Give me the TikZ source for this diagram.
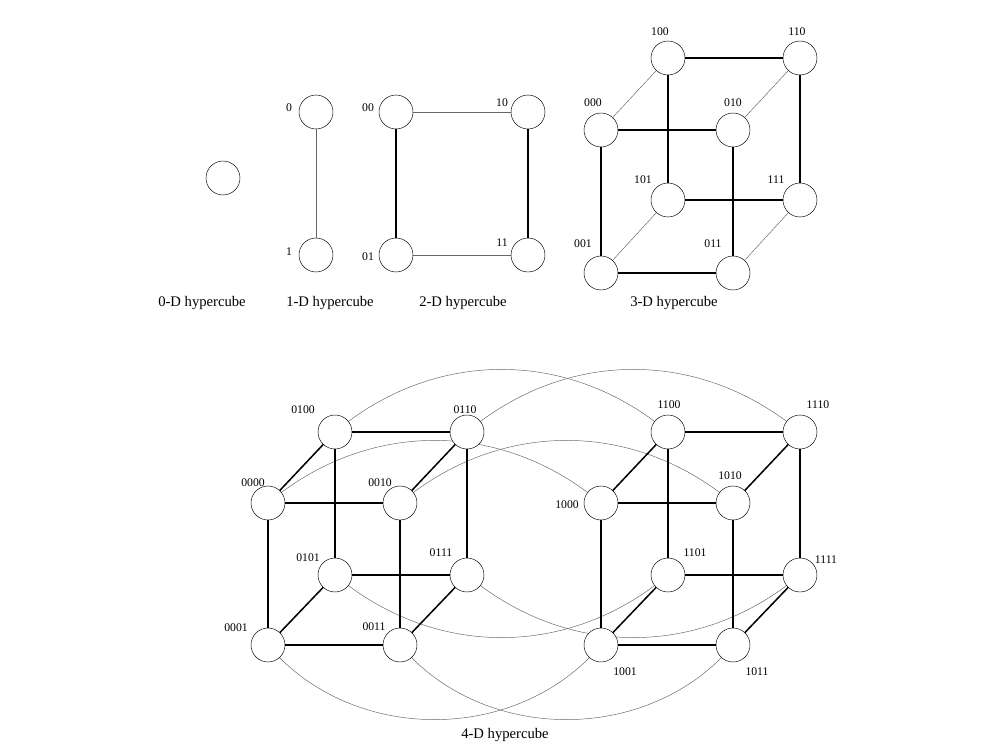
\documentclass[tikz,border=0pt]{standalone}
\usepackage{fontspec}
\setmainfont{Liberation Serif}
\begin{document}
\begin{tikzpicture}[x=0.03cm,y=0.03cm,
  v/.style={circle,draw,fill=white,minimum size=34*0.03cm,inner sep=0pt},
  lab/.style={font=\fontsize{10}{12}\selectfont},
  captxt/.style={font=\fontsize{12.5}{14}\selectfont},
  thk/.style={line width=1.3pt},
  thn/.style={line width=0.4pt,draw=black!60}]
\useasboundingbox (0,0) rectangle (1000,-750);
% 0-D
\node[v] (z) at (223,-178) {};
% 1-D
\node[v] (a0) at (316,-112) {}; \node[v] (a1) at (316,-255) {};
\draw[thn] (a0)--(a1);
\node[lab] at (289,-108) {0}; \node[lab] at (289,-252) {1};
% 2-D
\node[v] (b00) at (396,-112) {}; \node[v] (b10) at (528,-112) {};
\node[v] (b01) at (396,-255) {}; \node[v] (b11) at (528,-255) {};
\draw[thk] (b00)--(b01) (b10)--(b11);
\draw[thn] (b00)--(b10) (b01)--(b11);
\node[lab] at (368,-108) {00}; \node[lab] at (502,-103) {10};
\node[lab] at (368,-257) {01}; \node[lab] at (502,-243) {11};
% 3-D
\foreach \n/\x/\y in {000/601/130,010/733/130,001/601/273,011/733/273,100/668/58,110/800/58,101/668/200,111/800/200}
  \node[v] (c\n) at (\x,-\y) {};
\draw[thk] (c000)--(c001) (c000)--(c010) (c001)--(c011) (c010)--(c011)
  (c100)--(c110) (c100)--(c101) (c101)--(c111) (c110)--(c111);
\draw[thn] (c000)--(c100) (c010)--(c110) (c001)--(c101) (c011)--(c111);
\foreach \t/\x/\y in {100/660/32,110/797/32,000/593/103,010/733/103,101/643/180,111/776/180,001/583/244,011/713/244}
  \node[lab] at (\x,-\y) {\t};
% captions
\node[captxt] at (202,-303) {0-D hypercube};
\node[captxt] at (330,-303) {1-D hypercube};
\node[captxt] at (463,-303) {2-D hypercube};
\node[captxt] at (674,-303) {3-D hypercube};
% 4-D
\foreach \p/\x in {0/0,1/333}{
 \foreach \n/\xx/\y in {00/268/503,10/400/503,01/268/645,11/400/645}
   \coordinate (d\p0\n) at (\xx+\x,-\y);
 \foreach \n/\xx/\y in {00/335/432,10/467/432,01/335/575,11/467/575}
   \coordinate (d\p1\n) at (\xx+\x,-\y);
}
\draw[thn] (d0100) to[out=40,in=140] (d1100);
\draw[thn] (d0110) to[out=40,in=140] (d1110);
\draw[thn] (d0000) to[out=40,in=140] (d1000);
\draw[thn] (d0010) to[out=40,in=140] (d1010);
\draw[thn] (d0101) to[out=-40,in=-140] (d1101);
\draw[thn] (d0111) to[out=-40,in=-140] (d1111);
\draw[thn] (d0001) to[out=-50,in=-130] (d1001);
\draw[thn] (d0011) to[out=-50,in=-130] (d1011);
\foreach \n in {0000,0010,0001,0011,0100,0110,0101,0111,1000,1010,1001,1011,1100,1110,1101,1111}
  \node[v] (e\n) at (d\n) {};
\foreach \p in {0,1}{
 \draw[thk] (e\p000)--(e\p010) (e\p000)--(e\p001) (e\p010)--(e\p011) (e\p001)--(e\p011)
  (e\p100)--(e\p110) (e\p100)--(e\p101) (e\p110)--(e\p111) (e\p101)--(e\p111)
  (e\p000)--(e\p100) (e\p010)--(e\p110) (e\p001)--(e\p101) (e\p011)--(e\p111);
}
\foreach \t/\x/\y in {0100/303/410,0110/465/410,0000/253/483,0010/380/483,0101/308/558,0111/441/553,0001/236/628,0011/374/627,1100/669/405,1110/818/405,1000/567/505,1010/730/476,1101/695/553,1111/826/560,1001/625/672,1011/757/672}
  \node[lab] at (\x,-\y) {\t};
\node[captxt] at (505,-735) {4-D hypercube};
\end{tikzpicture}
\end{document}
